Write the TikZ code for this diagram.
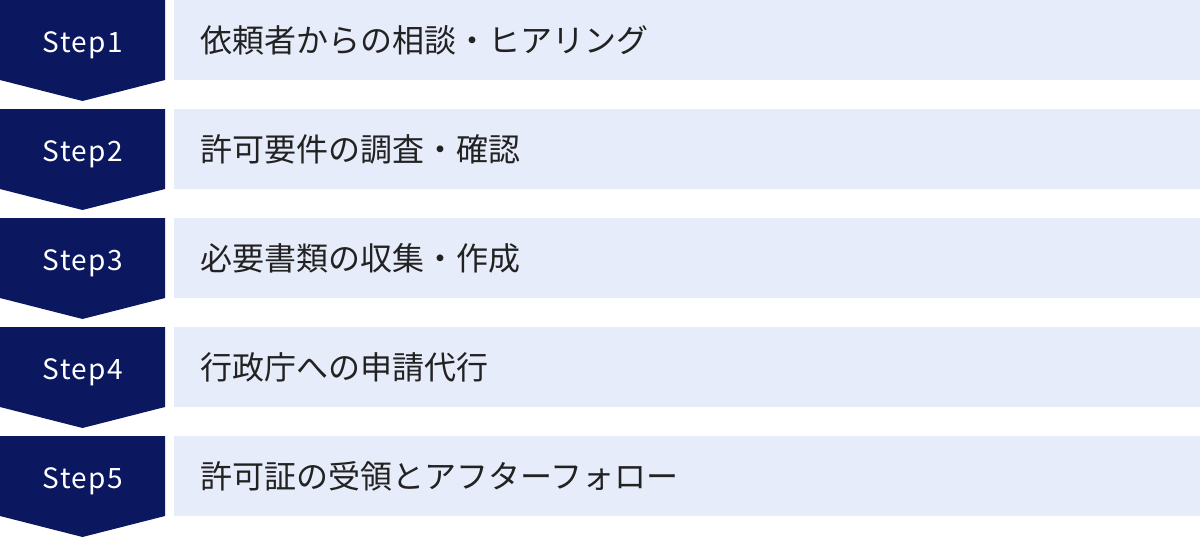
\documentclass[tikz,border=0pt]{standalone}
\usepackage{fontspec}
\setmainfont{Noto Sans CJK JP}
\definecolor{stepnavy}{HTML}{0B1860}
\definecolor{rowblue}{HTML}{E6ECF9}
\definecolor{rowtext}{HTML}{222222}
\tikzset{
    steptag/.style={text=white, anchor=base, font=\fontsize{28}{32}\selectfont\addfontfeature{LetterSpace=5.5}},
    rowlabel/.style={text=rowtext, anchor=west, font=\fontsize{32}{36}\selectfont}
}
\begin{document}
\begin{tikzpicture}[x=1pt,y=-1pt]
        \useasboundingbox (0,0) rectangle (1200,538);
        %rows:
        \foreach \y/\n/\l in {0/1/依頼者からの相談・ヒアリング,109/2/許可要件の調査・確認,218/3/必要書類の収集・作成,327/4/行政庁への申請代行,436/5/許可証の受領とアフターフォロー}{
            \fill[stepnavy] (0,\y) -- (165,\y) -- (165,\y+80) -- (82.5,\y+101) -- (0,\y+80) -- cycle;
            \fill[rowblue] (174,\y) rectangle (1200,\y+80);
            \node[steptag] (step\n) at (83,\y+52) {Step\n};
            \node[rowlabel] (row\n) at (197,\y+40) {\l};
        }
    \end{tikzpicture}
\end{document}
